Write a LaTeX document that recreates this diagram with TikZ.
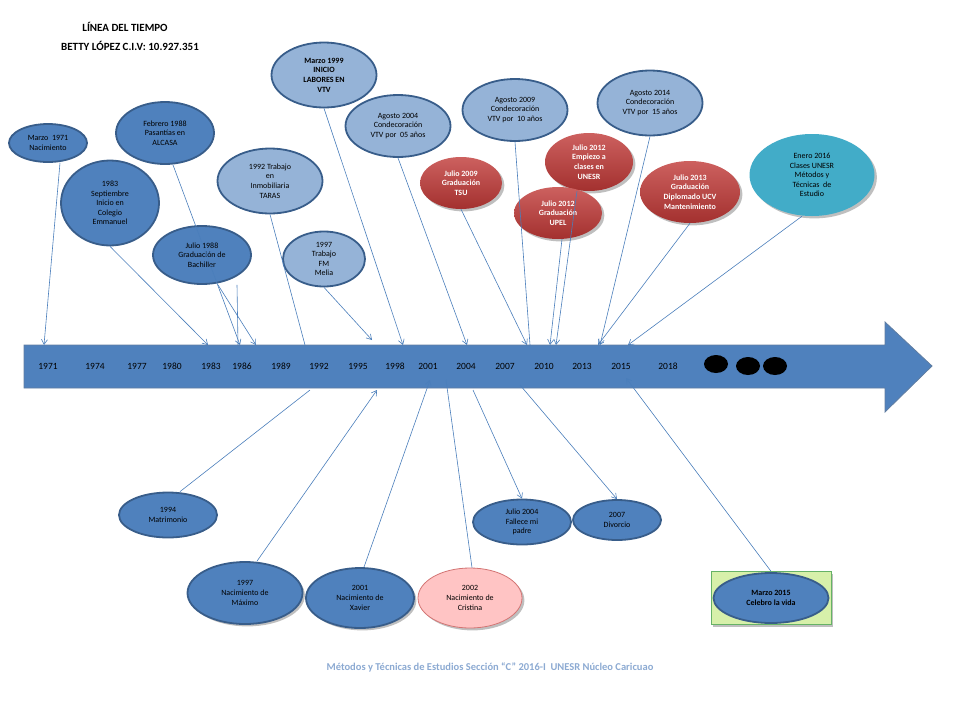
\documentclass[tikz,border=0pt]{standalone}
\usepackage{fontspec}
\setmainfont{Carlito}
\usetikzlibrary{shapes.geometric,arrows.meta,shadows}
\definecolor{lb}{RGB}{149,179,215}
\definecolor{bd}{RGB}{56,93,138}
\definecolor{mb}{RGB}{79,129,189}
\definecolor{rd}{RGB}{192,57,55}
\definecolor{tl}{RGB}{66,172,200}
\definecolor{pk}{RGB}{255,196,196}
\definecolor{ln}{RGB}{74,126,187}
\definecolor{ft}{RGB}{140,170,210}
\definecolor{gr}{RGB}{215,240,170}
\begin{document}
\begin{tikzpicture}[x=1pt,y=-1pt,
  ev/.style={ellipse,draw=bd,line width=1.8pt,inner sep=0pt,align=center,font=\fontsize{8}{9.6}\selectfont},
  lt/.style={ev,fill=lb},
  md/.style={ev,fill=mb},
  rdn/.style={ellipse,inner sep=0pt,align=center,font=\bfseries\fontsize{8}{9.6}\selectfont,text=white,top color=rd!80!white,bottom color=rd!85!black,draw=none,drop shadow},
  cn/.style={draw=ln,line width=0.6pt},
  ca/.style={cn,-{Straight Barb[length=5pt,width=6pt]}},
  yr/.style={font=\fontsize{9.5}{11}\selectfont}]
\useasboundingbox (0,0) rectangle (976,726);
% arrow
\fill[mb,draw=bd!80,line width=0.8pt] (24,345) -- (885,345) -- (885,322) -- (932,366) -- (885,412) -- (885,388) -- (24,388) -- cycle;
\foreach \x/\t in {48/1971,95/1974,137/1977,172/1980,211/1983,242/1986,281/1989,319/1992,358/1995,395/1998,428/2001,466/2004,505/2007,544/2010,582/2013,621/2015,668/2018}
  \node[yr] (y\t) at (\x,366) {\t};
\fill (716,364) ellipse (12 and 9) (748,366) ellipse (12 and 9) (775,366) ellipse (12 and 9);
\node[font=\bfseries\fontsize{11}{13}\selectfont] (t1) at (125,27) {LÍNEA DEL TIEMPO};
\node[font=\bfseries\fontsize{11}{13}\selectfont] (t2) at (130,46) {BETTY LÓPEZ C.I.V: 10.927.351};
\node[font=\bfseries\fontsize{10.5}{12}\selectfont,text=ft] (ft) at (490,667) {Métodos y Técnicas de Estudios Sección “C” 2016-I \ UNESR Núcleo Caricuao};
% upper events
\node[md,minimum width=78,minimum height=38] (a) at (48,143) {Marzo \ 1971\\Nacimiento};
\node[md,minimum width=98,minimum height=85] (b) at (110,203) {1983\\Septiembre\\Inicio en\\Colegio\\Emmanuel};
\node[md,minimum width=98,minimum height=62] (c) at (165,133) {Febrero 1988\\Pasantías en\\ALCASA};
\node[md,minimum width=98,minimum height=58] (d) at (202,255) {Julio 1988\\Graduación de\\Bachiller};
\node[lt,minimum width=105,minimum height=65] (e) at (270,181) {1992 Trabajo\\en\\Inmobiliaria\\TARAS};
\node[lt,minimum width=82,minimum height=55] (f) at (324,259) {1997\\Trabajo\\FM\\Melia};
\node[lt,minimum width=105,minimum height=65,font=\bfseries\fontsize{8}{9.6}\selectfont] (g) at (324,75) {Marzo 1999\\INICIO\\LABORES EN\\VTV};
\node[lt,minimum width=105,minimum height=62] (h) at (398,126) {Agosto 2004\\Condecoración\\VTV por \ 05 años};
\node[rdn,minimum width=82,minimum height=52] (i) at (461,183) {Julio 2009\\Graduación\\TSU};
\node[lt,minimum width=105,minimum height=62] (j) at (515,110) {Agosto 2009\\Condecoración\\VTV por \ 10 años};
\node[rdn,minimum width=88,minimum height=58] (k) at (589,162) {Julio 2012\\Empiezo a\\clases en\\UNESR};
\node[rdn,minimum width=88,minimum height=52] (l) at (558,213) {Julio 2012\\Graduación\\UPEL};
\node[lt,minimum width=105,minimum height=65] (m) at (650,103) {Agosto 2014\\Condecoración\\VTV por \ 15 años};
\node[rdn,minimum width=100,minimum height=62] (n) at (690,192) {Julio 2013\\Graduación\\Diplomado UCV\\Mantenimiento};
\node[ellipse,fill=tl,inner sep=0pt,align=center,font=\fontsize{8}{9.6}\selectfont,minimum width=125,minimum height=82,drop shadow] (o) at (812,175) {Enero 2016\\Clases UNESR\\Métodos y\\Técnicas \ de\\Estudio};
% lower events
\node[md,minimum width=98,minimum height=45] (p) at (168,515) {1994\\Matrimonio};
\node[md,minimum width=115,minimum height=62,drop shadow] (q) at (245,593) {1997\\Nacimiento de\\Máximo};
\node[md,minimum width=108,minimum height=60,drop shadow] (r) at (360,598) {2001\\Nacimiento de\\Xavier};
\node[ev,fill=pk,draw=rd!70,line width=0.8pt,minimum width=104,minimum height=60,drop shadow] (s) at (470,598) {2002\\Nacimiento de\\Cristina};
\node[md,minimum width=98,minimum height=45] (u) at (522,522) {Julio 2004\\Fallece mi\\padre};
\node[md,minimum width=88,minimum height=40] (v) at (617,520) {2007\\Divorcio};
\node[draw=green!50!black!60,fill=gr,minimum width=120,minimum height=53,drop shadow] (wb) at (771,598) {};
\node[md,minimum width=115,minimum height=50,font=\bfseries\fontsize{8}{9.6}\selectfont] (w) at (771,598) {Marzo 2015\\Celebro la vida};
% connector endpoints
\foreach \n/\x/\y in {p1/44/345,p2/208/345,p3/240/345,p4/256/345,p5/238/345,p6/305/345,p7/372/340,p8/403/345,p9/467/345,p10/527/345,p11/530/345,p12/553/345,p13/556/345,p14/550/345,p15/600/345,p16/598/345,p17/628/345,
  q1/310/390,q2/377/390,q3/430/380,q4/446/380,q5/473/390,q6/520/385,q7/626/378}
  \coordinate (\n) at (\x,\y);
\draw[ca] (a.south) ++(12,0) -- (p1);
\draw[ca] (b.south) -- (p2);
\draw[ca] (c.south) ++(8,0) -- (p3);
\draw[ca] (d.south) ++(16,0) -- (p4);
\draw[cn] (d.south) ++(35,0) -- (p5);
\draw[cn] (e.south) -- (p6);
\draw[ca] (f.south) -- (p7);
\draw[ca] (g.south) -- (p8);
\draw[ca] (h.south) -- (p9);
\draw[ca] (i.south) -- (p10);
\draw[cn] (j.south) -- (p11);
\draw[ca] (k.south) ++(-12,0) -- (p13);
\draw[ca] (l.south) ++(4,0) -- (p14);
\draw[ca] (m.south) -- (p15);
\draw[ca] (n.south) -- (p16);
\draw[ca] (o.south) ++(-10,0) -- (p17);
\draw[cn] (p.north) ++(12,0) -- (q1);
\draw[ca] (q.north) ++(12,0) -- (q2);
\draw[ca] (r.north) ++(4,0) -- (q3);
\draw[cn] (s.north) ++(2,0) -- (q4);
\draw[ca] (q5) -- (u.north);
\draw[ca] (q6) -- (v.north);
\draw[ca] (wb.north) -- (q7);
\end{tikzpicture}
\end{document}
